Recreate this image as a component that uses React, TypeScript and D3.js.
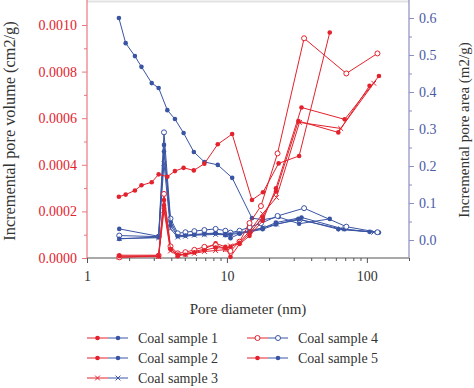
import React, { useEffect, useRef } from "react";
import * as d3 from "d3";

const RED = "#e3222d";
const BLUE = "#3a54a4";
const FONT = "'Liberation Serif', 'Times New Roman', serif";

const sampleNames = ["Coal sample 1", "Coal sample 2", "Coal sample 3", "Coal sample 4", "Coal sample 5"];
const sampleMarks = ["dot", "dot", "cross", "open", "dot"];

// pore diameter (nm) for each sample
const diam1 = [1.69, 1.89, 2.2, 2.45, 2.9, 3.25, 3.75, 4.25, 4.9, 5.8, 6.9, 8.6, 10.9, 15.1, 18.1, 23.4, 32.8, 54.3];
const diam2 = [1.7, 3.25, 3.55, 3.95, 4.45, 5.05, 5.85, 6.9, 8.3, 9.75, 10.6, 12.3, 14.5, 18, 22.4, 34.1, 69.4, 122];
const diam3 = [1.7, 3.25, 3.55, 3.95, 4.45, 5.05, 5.85, 6.9, 8.3, 9.75, 10.6, 12.3, 14.5, 18, 22.6, 33, 65, 112];
const diam4 = [1.7, 3.25, 3.55, 3.95, 4.45, 5.05, 5.85, 6.9, 8.3, 9.75, 10.6, 12.3, 14.5, 17.5, 23, 35.6, 71.3, 119];
const diam5 = [1.7, 3.25, 3.55, 3.95, 4.45, 5.05, 5.85, 6.9, 8.3, 9.75, 10.6, 12.3, 14.5, 18, 22.4, 32.4, 62.5, 104.5];

// incremental pore volume (cm2/g)
const vol1 = [0.000263, 0.000272, 0.00029, 0.000312, 0.000325, 0.000359, 0.000349, 0.000373, 0.000387, 0.000376, 0.000405, 0.000488, 0.000532, 0.000249, 0.000282, 0.000406, 0.000438, 0.000968];
const vol2 = [0.000012, 0.000012, 0.000249, 0.000045, 0.000008, 0.000018, 0.000028, 0.000038, 0.000063, 0.000048, 0.000005, 0.00006, 0.000095, 0.00016, 0.000299, 0.000646, 0.000595, 0.000781];
const vol3 = [0.000004, 0.000006, 0.000205, 0.00003, 0.000012, 0.000016, 0.00002, 0.000028, 0.000032, 0.000036, 0.000052, 0.000068, 0.000115, 0.00019, 0.00026, 0.000582, 0.000556, 0.00075];
const vol4 = [0.000003, 0.00001, 0.000275, 0.00005, 0.00002, 0.000025, 0.000035, 0.000048, 0.000055, 0.00004, 0.00003, 0.00007, 0.00015, 0.000223, 0.000449, 0.000943, 0.000792, 0.000878];
const vol5 = [0.000008, 0.000008, 0.000225, 0.000038, 0.000015, 0.000014, 0.000024, 0.000033, 0.000045, 0.000042, 0.000048, 0.000065, 0.000105, 0.000175, 0.000285, 0.000588, 0.000539, 0.000739];

// incremental pore area (m2/g)
const area1 = [0.6, 0.532, 0.497, 0.468, 0.424, 0.411, 0.351, 0.327, 0.289, 0.238, 0.211, 0.203, 0.168, 0.059, 0.055, 0.062, 0.044, 0.057];
const area2 = [0.03, 0.01, 0.257, 0.05, 0.012, 0.013, 0.015, 0.017, 0.019, 0.013, 0.005, 0.017, 0.023, 0.032, 0.047, 0.061, 0.029, 0.02];
const area3 = [0.004, 0.006, 0.207, 0.03, 0.008, 0.01, 0.013, 0.014, 0.015, 0.014, 0.018, 0.02, 0.025, 0.033, 0.043, 0.055, 0.03, 0.021];
const area4 = [0.012, 0.009, 0.291, 0.058, 0.018, 0.021, 0.024, 0.027, 0.03, 0.025, 0.02, 0.025, 0.035, 0.045, 0.065, 0.086, 0.036, 0.021];
const area5 = [0.003, 0.008, 0.239, 0.04, 0.01, 0.012, 0.014, 0.016, 0.018, 0.016, 0.015, 0.018, 0.022, 0.029, 0.042, 0.057, 0.029, 0.022];

const volTicks = [0, 0.0002, 0.0004, 0.0006, 0.0008, 0.001];
const volMinor = [0.0001, 0.0003, 0.0005, 0.0007, 0.0009];
const areaTicks = [0, 0.1, 0.2, 0.3, 0.4, 0.5, 0.6];
const areaMinor = [0.05, 0.15, 0.25, 0.35, 0.45, 0.55];
const xTicks = [1, 10, 100];
const xMinor = [2, 3, 4, 5, 6, 7, 8, 9, 20, 30, 40, 50, 60, 70, 80, 90, 200];

export default function App() {
  const ref = useRef<SVGSVGElement>(null);

  useEffect(() => {
    const svg = d3.select(ref.current);
    svg.selectAll("*").remove();

    const left = 87, right = 409, top = 1.5, bottom = 258;
    const x = d3.scaleLog().domain([1, 200]).range([left, right]);
    const yVol = d3.scaleLinear().domain([0, 0.001]).range([bottom, 25]);
    const yArea = d3.scaleLinear().domain([0, 0.6]).range([240, 18]);

    const diams = [diam1, diam2, diam3, diam4, diam5];
    const vols = [vol1, vol2, vol3, vol4, vol5];
    const areas = [area1, area2, area3, area4, area5];

    const marker = (g, px, py, kind, color) => {
      if (kind === "open") {
        g.append("circle").attr("cx", px).attr("cy", py).attr("r", 2.5)
          .attr("fill", "#fff").attr("stroke", color).attr("stroke-width", 1);
      } else if (kind === "cross") {
        const s = 2.4;
        g.append("path")
          .attr("d", `M${px - s},${py - s}L${px + s},${py + s}M${px - s},${py + s}L${px + s},${py - s}`)
          .attr("stroke", color).attr("stroke-width", 1);
      } else {
        g.append("circle").attr("cx", px).attr("cy", py).attr("r", 2.3).attr("fill", color);
      }
    };

    // axes
    const axL = svg.append("g").attr("transform", `translate(${left},0)`);
    axL.call(d3.axisLeft(yVol).tickValues(volTicks).tickFormat(d3.format(".4f")).tickSize(5).tickPadding(5));
    axL.append("g").call(d3.axisLeft(yVol).tickValues(volMinor).tickFormat(() => "").tickSize(3));
    axL.selectAll(".domain").remove();
    axL.selectAll("line").attr("stroke", "#e87880");
    axL.selectAll("text").attr("fill", RED).style("font-family", FONT).style("font-size", "14px");

    const axR = svg.append("g").attr("transform", `translate(${right},0)`);
    axR.call(d3.axisRight(yArea).tickValues(areaTicks).tickFormat(d3.format(".1f")).tickSize(5).tickPadding(5));
    axR.append("g").call(d3.axisRight(yArea).tickValues(areaMinor).tickFormat(() => "").tickSize(3));
    axR.selectAll(".domain").remove();
    axR.selectAll("line").attr("stroke", "#8a8ec6");
    axR.selectAll("text").attr("fill", "#4a5aa6").style("font-family", FONT).style("font-size", "14px");

    const axB = svg.append("g").attr("transform", `translate(0,${bottom})`);
    axB.call(d3.axisBottom(x).tickValues(xTicks).tickFormat(d3.format("d")).tickSize(5).tickPadding(8));
    axB.append("g").call(d3.axisBottom(x).tickValues(xMinor).tickFormat(() => "").tickSize(3));
    axB.selectAll(".domain").remove();
    axB.selectAll("line").attr("stroke", "#555");
    axB.selectAll("text").attr("fill", "#333").style("font-family", FONT).style("font-size", "14px");

    svg.append("line").attr("x1", left).attr("x2", right).attr("y1", top).attr("y2", top)
      .attr("stroke", "#e2e2e2").attr("stroke-width", 2);
    svg.append("line").attr("x1", left).attr("x2", right).attr("y1", bottom).attr("y2", bottom)
      .attr("stroke", "#555");
    svg.append("line").attr("x1", left).attr("x2", left).attr("y1", 0).attr("y2", bottom)
      .attr("stroke", "#e87880").attr("stroke-width", 1.2);
    svg.append("line").attr("x1", right).attr("x2", right).attr("y1", 0).attr("y2", bottom)
      .attr("stroke", "#8a8ec6").attr("stroke-width", 1.2);

    // series: blue (area) under red (volume)
    const plot = svg.append("g");
    for (let s = 0; s < 5; s++) {
      const pts = diams[s].map((d, i) => [x(d), yArea(areas[s][i])]);
      plot.append("path").attr("d", d3.line()(pts)).attr("fill", "none")
        .attr("stroke", BLUE).attr("stroke-width", 1);
      pts.forEach(p => marker(plot, p[0], p[1], sampleMarks[s], BLUE));
    }
    for (let s = 0; s < 5; s++) {
      const pts = diams[s].map((d, i) => [x(d), yVol(vols[s][i])]);
      plot.append("path").attr("d", d3.line()(pts)).attr("fill", "none")
        .attr("stroke", RED).attr("stroke-width", 1);
      pts.forEach(p => marker(plot, p[0], p[1], sampleMarks[s], RED));
    }

    // titles
    svg.append("text").attr("x", (left + right) / 2).attr("y", 314).attr("text-anchor", "middle")
      .style("font-family", FONT).style("font-size", "15px").attr("fill", "#333")
      .text("Pore diameter (nm)");
    svg.append("text").attr("transform", "translate(15,131) rotate(-90)").attr("text-anchor", "middle")
      .style("font-family", FONT).style("font-size", "16.3px").attr("fill", "#333")
      .text("Incremental pore volume (cm2/g)");
    svg.append("text").attr("transform", "translate(469,130) rotate(-90)").attr("text-anchor", "middle")
      .style("font-family", FONT).style("font-size", "15px").attr("fill", "#333")
      .text("Incremental pore area (m2/g)");

    // legend
    const legend = svg.append("g");
    sampleNames.forEach((name, i) => {
      const col = i < 3 ? 0 : 1;
      const row = i < 3 ? i : i - 3;
      const lx = col === 0 ? 87 : 247;
      const ly = 338 + row * 20;
      legend.append("line").attr("x1", lx).attr("x2", lx + 21).attr("y1", ly).attr("y2", ly)
        .attr("stroke", RED);
      legend.append("line").attr("x1", lx + 21).attr("x2", lx + 41).attr("y1", ly).attr("y2", ly)
        .attr("stroke", BLUE);
      marker(legend, lx + 10.5, ly, sampleMarks[i], RED);
      marker(legend, lx + 31, ly, sampleMarks[i], BLUE);
      legend.append("text").attr("x", lx + 51).attr("y", ly + 5)
        .style("font-family", FONT).style("font-size", "14px").attr("fill", "#333").text(name);
    });
  }, []);

  return (
    <svg ref={ref} width={474} height={388}
      style={{ position: "absolute", left: 0, top: 0, background: "#fff" }} />
  );
}
